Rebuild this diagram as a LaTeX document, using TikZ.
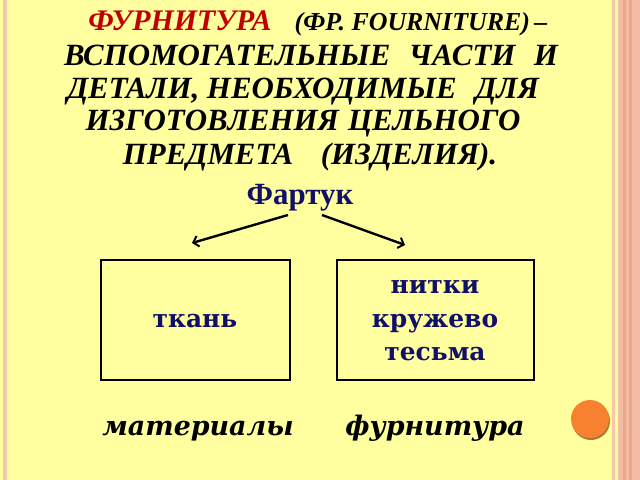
\documentclass[tikz,border=0pt]{standalone}
\usepackage{fontspec}
\setmainfont{Liberation Serif}
\newfontfamily\wideserif{DejaVu Serif}
\usetikzlibrary{arrows.meta}
\definecolor{slidebg}{HTML}{FFFF9F}
\definecolor{edgepink}{HTML}{F7C6AE}
\definecolor{bandpink}{HTML}{F3BCA4}
\definecolor{bandstripe}{HTML}{EBA68C}
\definecolor{titlered}{HTML}{C00000}
\definecolor{inknavy}{HTML}{10106A}
\definecolor{dotorange}{HTML}{F7812F}
\definecolor{dotshadow}{HTML}{A8783C}
\tikzset{
  titleline/.style={anchor=base, font=\fontsize{31}{31}\selectfont\bfseries\itshape},
  termtitle/.style={anchor=base, font=\fontsize{30}{30}\selectfont\bfseries\itshape},
  smalltitle/.style={anchor=base, font=\fontsize{26}{26}\selectfont\bfseries\itshape},
  apronname/.style={anchor=base, text=inknavy, font=\fontsize{31}{31}\selectfont\bfseries},
  navytext/.style={anchor=base, text=inknavy, font=\wideserif\fontsize{25}{25}\selectfont\bfseries},
  groupname/.style={anchor=base, font=\wideserif\fontsize{27}{27}\selectfont\bfseries\itshape},
  itembox/.style={draw=black, line width=1.6bp},
  branch/.style={line width=2.4bp, -{Straight Barb[length=5bp,width=11bp,line width=2bp]}}
}
\begin{document}
\begin{tikzpicture}[x=1bp,y=-1bp]
	% slide background and frame
	\fill[slidebg] (0,0) rectangle (640,480);
	\useasboundingbox (0,0) rectangle (640,480);
	\fill[edgepink] (3,0) rectangle (7,480);
	\fill[edgepink] (612,0) rectangle (615,480);
	\fill[bandpink] (618,0) rectangle (640,480);
	\fill[bandstripe] (623,0) rectangle (626,480);
	\fill[bandstripe] (629,0) rectangle (632,480);
	\fill[dotshadow] (591,421) circle (19);
	\fill[dotorange] (590,419) circle (19);
	% title
	\node[termtitle, text=titlered] (term) at (180,31) {ФУРНИТУРА};
	\node[smalltitle] (origin) at (421,31) {(ФР. FOURNITURE)\,–};
	\node[titleline] (line2) at (311,66) {ВСПОМОГАТЕЛЬНЫЕ\hspace{0.6em}ЧАСТИ\hspace{0.6em}И};
	\node[titleline] (line3) at (303,99) {ДЕТАЛИ, НЕОБХОДИМЫЕ\hspace{0.6em}ДЛЯ};
	\node[titleline] (line4) at (303,131) {ИЗГОТОВЛЕНИЯ\hspace{0.3em}ЦЕЛЬНОГО};
	\node[titleline] (line5) at (310,165) {ПРЕДМЕТА\hspace{0.9em}(ИЗДЕЛИЯ).};
	% apron and its two groups
	\node[apronname] (apron) at (300,205) {Фартук};
	\coordinate (leftfrom) at (288,215);
	\coordinate (leftto) at (192,243);
	\coordinate (rightfrom) at (322,215);
	\coordinate (rightto) at (405,245);
	\draw[branch] (leftfrom) -- (leftto);
	\draw[branch] (rightfrom) -- (rightto);
	\draw[itembox] (101,260) rectangle (290,380);
	\draw[itembox] (337,260) rectangle (534,380);
	\node[navytext] (fabric) at (195,327) {ткань};
	\node[navytext] (threads) at (435,293) {нитки};
	\node[navytext] (lace) at (435,327) {кружево};
	\node[navytext] (braid) at (435,360) {тесьма};
	\node[groupname] (materials) at (198,435) {материалы};
	\node[groupname] (fittings) at (435,435) {фурнитура};
\end{tikzpicture}
\end{document}
